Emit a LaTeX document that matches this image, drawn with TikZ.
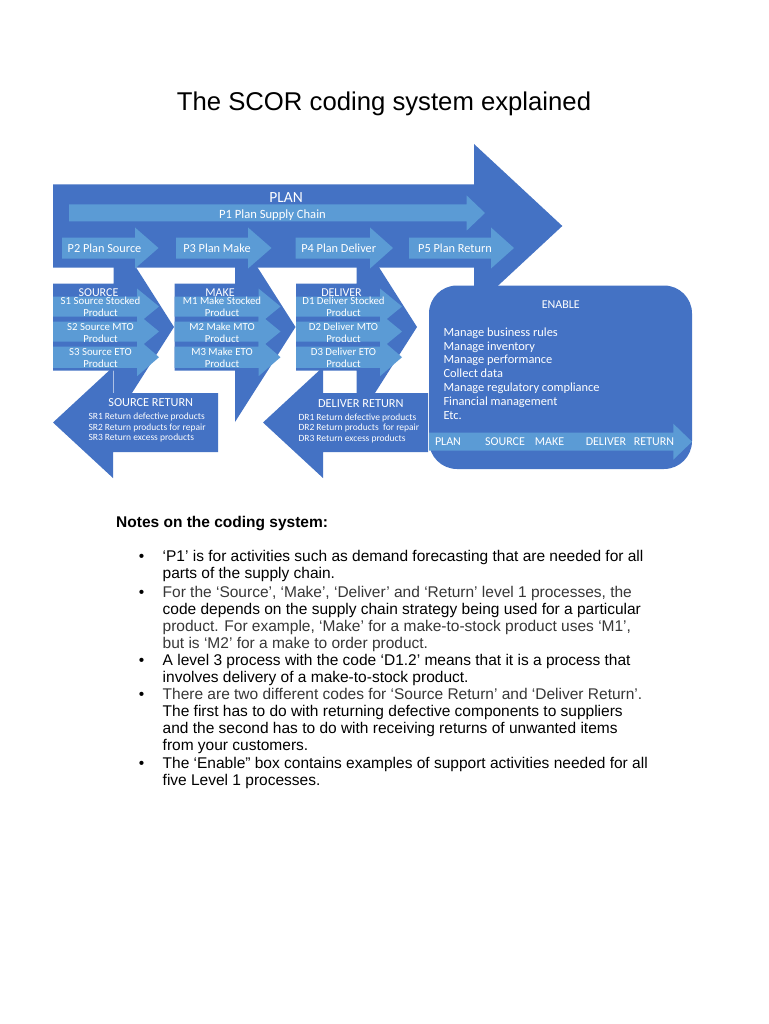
\documentclass[tikz,border=0pt]{standalone}
\usepackage{fontspec}
\setmainfont{Liberation Sans}
\newfontfamily\carl{Carlito}
\definecolor{scordark}{RGB}{68,114,196}
\definecolor{scorlight}{RGB}{91,155,213}
\definecolor{notegray}{RGB}{55,55,55}
% right-pointing block arrow: style, x0, xback, xtip, yc, body half, head half
\newcommand{\rblock}[7]{%
 \fill[#1] ({#2},{#5-#6}) -- ({#3},{#5-#6}) -- ({#3},{#5-#7}) -- ({#4},{#5}) -- ({#3},{#5+#7}) -- ({#3},{#5+#6}) -- ({#2},{#5+#6}) -- cycle;}
% left-pointing block arrow: style, xtip, xback, xright, yc, body half, head half
\newcommand{\lblock}[7]{%
 \fill[#1] ({#2},{#5}) -- ({#3},{#5-#7}) -- ({#3},{#5-#6}) -- ({#4},{#5-#6}) -- ({#4},{#5+#6}) -- ({#3},{#5+#6}) -- ({#3},{#5+#7}) -- cycle;}
\tikzset{
 lbl/.style={inner sep=0pt, text height=0.68em, text depth=0pt, text=white},
 f155/.style={lbl, font={\carl\fontsize{15.5}{17}\selectfont}},
 f126/.style={lbl, font={\carl\fontsize{12.6}{14}\selectfont}},
 f123/.style={lbl, font={\carl\fontsize{12.3}{14}\selectfont}},
 f120/.style={lbl, font={\carl\fontsize{12}{14}\selectfont}},
 f124/.style={lbl, anchor=west, font={\carl\fontsize{12.4}{14}\selectfont}},
 f108/.style={lbl, font={\carl\fontsize{10.8}{12}\selectfont}},
 f95/.style={lbl, anchor=west, font={\carl\fontsize{9.5}{11}\selectfont}},
 note/.style={inner sep=0pt, anchor=base west, font={\fontsize{15.5}{17}\selectfont}},
 notelight/.style={note, text=notegray},
 bul/.style={inner sep=0pt, anchor=base, font={\fontsize{15.5}{17}\selectfont}},
}
\begin{document}
\begin{tikzpicture}[x=1pt,y=-1pt]
\useasboundingbox (0,0) rectangle (768,1024);
\fill[white] (0,0) rectangle (768,1024);

% title
\node[inner sep=0pt, anchor=base, font={\fontsize{25.7}{30}\selectfont}] (title) at (384,111) {The SCOR coding system explained};

% ENABLE box
\fill[scordark, rounded corners=28pt] (429,285.5) rectangle (692,469);
% PLAN big arrow
\rblock{scordark}{53}{474}{562.3}{226}{41.5}{82}
% SOURCE / MAKE / DELIVER dark arrows
\foreach \xL in {53,174.5,296} {
  \rblock{scordark}{\xL}{\xL+60.5}{\xL+121}{327}{43.5}{95}
}
% return arrows
\lblock{scordark}{53}{113}{218}{422.5}{29.5}{55.5}
\lblock{scordark}{263}{323}{428}{422.5}{29.5}{55.5}

% light arrows in PLAN
\rblock{scorlight}{69}{466.7}{485}{213}{8.5}{17.5}
\rblock{scorlight}{62}{135}{158.5}{248}{10.5}{20.5}
\rblock{scorlight}{176}{248}{271.5}{248}{10.5}{20.5}
\rblock{scorlight}{295.5}{370}{393}{248}{10.5}{20.5}
\rblock{scorlight}{409}{491}{514}{248}{10.5}{20.5}
% light arrows in SOURCE / MAKE / DELIVER
\foreach \xL in {53,174.5,296} {
  \rblock{scorlight}{\xL}{\xL+84}{\xL+106}{306.5}{10}{18}
  \rblock{scorlight}{\xL}{\xL+84}{\xL+106}{331.5}{10}{18}
  \rblock{scorlight}{\xL}{\xL+84}{\xL+106}{357.2}{10.6}{19}
}
% light arrow in ENABLE
\rblock{scorlight}{429}{673.3}{692}{441.7}{9}{18}

% PLAN texts
\node[f155] (plan) at (286,199) {PLAN};
\node[f126] (p1) at (272.5,215.5) {P1 Plan Supply Chain};
\node[f123] (p2) at (104.5,249.5) {P2 Plan Source};
\node[f123] (p3) at (217,249.5) {P3 Plan Make};
\node[f123] (p4) at (338.7,249.5) {P4 Plan Deliver};
\node[f123] (p5) at (455,249.5) {P5 Plan Return};

% SOURCE / MAKE / DELIVER texts
\foreach \xL/\xP/\xW/\xT in {53/S/Source/SOURCE, 174.5/M/Make/MAKE, 296/D/Deliver/DELIVER} {
  \node[f120] (\xP0) at ({\xL+45.5},292.7) {\xT};
  \node[f108] (\xP1a) at ({\xL+47.5},300.9) {\xP1 \xW\ Stocked};
  \node[f108] (\xP1b) at ({\xL+47.5},312.9) {Product};
  \node[f108] (\xP2a) at ({\xL+47.5},326.7) {\xP2 \xW\ MTO};
  \node[f108] (\xP2b) at ({\xL+47.5},339.3) {Product};
  \node[f108] (\xP3a) at ({\xL+47.5},351.7) {\xP3 \xW\ ETO};
  \node[f108] (\xP3b) at ({\xL+47.5},364) {Product};
}

% return texts
\node[f123] (srt) at (150.8,403.3) {SOURCE RETURN};
\node[f95] (sr1) at (88.3,416) {SR1 Return defective products};
\node[f95] (sr2) at (88.3,426.7) {SR2 Return products for repair};
\node[f95] (sr3) at (88.3,437.3) {SR3 Return excess products};
\node[f123] (drt) at (360.8,404) {DELIVER RETURN};
\node[f95] (dr1) at (298.3,416.7) {DR1 Return defective products};
\node[f95] (dr2) at (298.3,427.3) {DR2 Return products\ \ for repair};
\node[f95] (dr3) at (298.3,438.3) {DR3 Return excess products};

% ENABLE texts
\node[f120] (en) at (560.8,305) {ENABLE};
\node[f124] (e1) at (443.3,332.7) {Manage business rules};
\node[f124] (e2) at (443.3,346.6) {Manage inventory};
\node[f124] (e3) at (443.3,360.5) {Manage performance};
\node[f124] (e4) at (443.3,374.4) {Collect data};
\node[f124] (e5) at (443.3,388.3) {Manage regulatory compliance};
\node[f124] (e6) at (443.3,402.2) {Financial management};
\node[f124] (e7) at (443.3,416) {Etc.};
\node[f120] (ea1) at (448,441.7) {PLAN};
\node[f120] (ea2) at (505,441.7) {SOURCE};
\node[f120] (ea3) at (549.5,441.7) {MAKE};
\node[f120] (ea4) at (606,441.7) {DELIVER};
\node[f120] (ea5) at (654,441.7) {RETURN};

% notes
\node[inner sep=0pt, anchor=base west, font={\bfseries\fontsize{15.5}{17}\selectfont}] (nh) at (116,527.5) {Notes on the coding system:};
\node[bul] (b1) at (141.7,561) {•};
\node[bul] (b2) at (141.7,597) {•};
\node[bul] (b3) at (141.7,665.5) {•};
\node[bul] (b4) at (141.7,699.5) {•};
\node[bul] (b5) at (141.7,768) {•};
\node[note] (n1) at (162.5,561) {‘P1’ is for activities such as demand forecasting that are needed for all};
\node[note] (n2) at (162.5,578.5) {parts of the supply chain.};
\node[notelight] (n3) at (162.5,597) {For the ‘Source’, ‘Make’, ‘Deliver’ and ‘Return’ level 1 processes, the};
\node[note] (n4) at (162.5,614) {code depends on the supply chain strategy being used for a particular};
\node[notelight] (n5) at (162.5,631) {product. For example, ‘Make’ for a make-to-stock product uses ‘M1’,};
\node[notelight] (n6) at (162.5,648) {but is ‘M2’ for a make to order product.};
\node[note] (n7) at (162.5,665.5) {A level 3 process with the code ‘D1.2’ means that it is a process that};
\node[note] (n8) at (162.5,682.5) {involves delivery of a make-to-stock product.};
\node[notelight] (n9) at (162.5,699.5) {There are two different codes for ‘Source Return’ and ‘Deliver Return’.};
\node[note] (n10) at (162.5,716.5) {The first has to do with returning defective components to suppliers};
\node[note] (n11) at (162.5,733.5) {and the second has to do with receiving returns of unwanted items};
\node[note] (n12) at (162.5,750.5) {from your customers.};
\node[note] (n13) at (162.5,768) {The ‘Enable” box contains examples of support activities needed for all};
\node[note] (n14) at (162.5,785) {five Level 1 processes.};
\end{tikzpicture}
\end{document}
